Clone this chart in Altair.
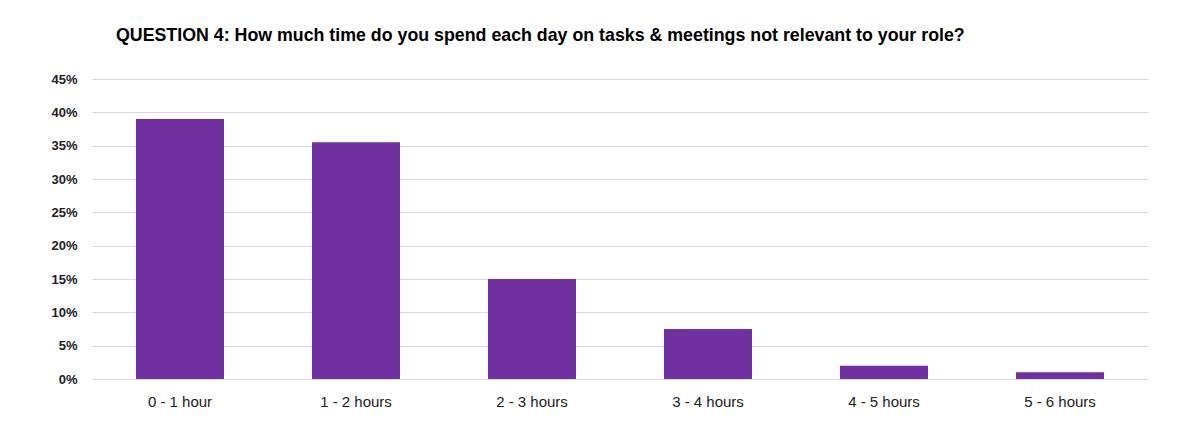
import altair as alt
import pandas as pd

categories = ["0 - 1 hour", "1 - 2 hours", "2 - 3 hours", "3 - 4 hours", "4 - 5 hours", "5 - 6 hours"]
shares = [0.39, 0.355, 0.15, 0.075, 0.02, 0.01]
y_ticks = [0, 0.05, 0.10, 0.15, 0.20, 0.25, 0.30, 0.35, 0.40, 0.45]

df = pd.DataFrame({"category": categories, "share": shares})

chart = alt.Chart(df).mark_bar(color="#7030A0").encode(
    x=alt.X("category:N", sort=categories, title=None,
            scale=alt.Scale(paddingInner=0.5, paddingOuter=0.25),
            axis=alt.Axis(labelAngle=0, labelFontSize=15, labelColor="#222222",
                          labelFont="Liberation Sans", domain=False, ticks=False,
                          labelPadding=15)),
    y=alt.Y("share:Q", title=None,
            scale=alt.Scale(domain=[0, 0.45], nice=False),
            axis=alt.Axis(values=y_ticks, format=".0%", labelFontSize=13,
                          labelFontWeight="bold", labelColor="#222222",
                          labelFont="Liberation Sans", domain=False, ticks=False,
                          labelPadding=15, gridColor="#d9d9d9", gridWidth=1)),
).properties(
    width=1056,
    height=300,
    title=alt.TitleParams(
        "QUESTION 4: How much time do you spend each day on tasks & meetings not relevant to your role?",
        anchor="start", dx=65, fontSize=17.8, fontWeight="bold", color="#000000",
        font="Liberation Sans", offset=28),
    autosize=alt.AutoSizeParams(type="none"),
    padding={"left": 84, "top": 71, "right": 40, "bottom": 40},
).configure_view(stroke=None)

chart.save("out.html", embed_options={"renderer": "svg", "actions": False})
